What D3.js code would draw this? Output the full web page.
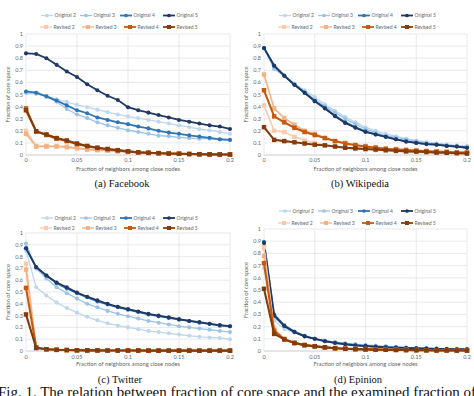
<!DOCTYPE html>
<html lang="en">
<head>
<meta charset="utf-8">
<script src="https://d3js.org/d3.v7.min.js"></script>
<style>
  body { margin: 0; background: #fff; }
  svg text { font-family: Lato, "Open Sans", sans-serif; }
  text.cap { font-family: "Liberation Serif", "DejaVu Serif", serif; fill: #111; }
</style>
</head>
<body>
<script>
// x values: fraction of neighbors among close nodes
var xs = [0, 0.01, 0.02, 0.03, 0.04, 0.05, 0.06, 0.07, 0.08, 0.09, 0.1,
          0.11, 0.12, 0.13, 0.14, 0.15, 0.16, 0.17, 0.18, 0.19, 0.2];

var seriesNames = ["Original 2", "Original 3", "Original 4", "Original 5",
                   "Revised 2", "Revised 3", "Revised 4", "Revised 5"];
var seriesColors = ["#bdd7ee", "#9dc3e6", "#2e75b6", "#1f3864",
                    "#f8cbad", "#f4b183", "#c55a11", "#843c0c"];
var yTicks = [0, 0.1, 0.2, 0.3, 0.4, 0.5, 0.6, 0.7, 0.8, 0.9, 1];
var xTicks = [0, 0.05, 0.1, 0.15, 0.2];
var xTickLabels = ["0", "0.05", "0.1", "0.15", "0.2"];
var panelTitles = ["(a) Facebook", "(b) Wikipedia", "(c) Twitter", "(d) Epinion"];

// Facebook, one row per series (same order as seriesNames)
var facebook = [
  [0.51, 0.505, 0.49, 0.46, 0.44, 0.415, 0.395, 0.375, 0.355, 0.335, 0.32, 0.305, 0.29, 0.275, 0.26, 0.245, 0.23, 0.215, 0.205, 0.19, 0.175],
  [0.52, 0.51, 0.48, 0.44, 0.38, 0.335, 0.305, 0.27, 0.245, 0.225, 0.205, 0.19, 0.175, 0.16, 0.155, 0.145, 0.14, 0.135, 0.135, 0.128, 0.125],
  [0.525, 0.515, 0.485, 0.45, 0.41, 0.37, 0.345, 0.31, 0.29, 0.27, 0.255, 0.235, 0.22, 0.2, 0.185, 0.175, 0.162, 0.152, 0.142, 0.13, 0.125],
  [0.84, 0.835, 0.80, 0.745, 0.69, 0.645, 0.585, 0.535, 0.49, 0.455, 0.395, 0.37, 0.35, 0.33, 0.31, 0.29, 0.275, 0.26, 0.245, 0.235, 0.215],
  [0.2, 0.075, 0.075, 0.075, 0.07, 0.06, 0.05, 0.045, 0.038, 0.032, 0.027, 0.022, 0.019, 0.016, 0.013, 0.011, 0.009, 0.008, 0.007, 0.006, 0.005],
  [0.175, 0.07, 0.07, 0.07, 0.065, 0.055, 0.045, 0.04, 0.035, 0.03, 0.025, 0.02, 0.018, 0.015, 0.012, 0.01, 0.008, 0.007, 0.006, 0.005, 0.004],
  [0.385, 0.195, 0.165, 0.135, 0.115, 0.09, 0.072, 0.058, 0.048, 0.038, 0.029, 0.022, 0.018, 0.015, 0.012, 0.01, 0.008, 0.006, 0.005, 0.004, 0.004],
  [0.37, 0.195, 0.17, 0.14, 0.12, 0.095, 0.075, 0.06, 0.05, 0.04, 0.03, 0.022, 0.018, 0.015, 0.012, 0.01, 0.008, 0.006, 0.005, 0.004, 0.004]
];

var wikipedia = [
  [0.88, 0.72, 0.66, 0.59, 0.535, 0.48, 0.42, 0.365, 0.315, 0.27, 0.23, 0.2, 0.175, 0.155, 0.135, 0.12, 0.105, 0.095, 0.085, 0.08, 0.075],
  [0.88, 0.71, 0.655, 0.585, 0.525, 0.46, 0.405, 0.35, 0.3, 0.255, 0.215, 0.185, 0.16, 0.145, 0.13, 0.115, 0.1, 0.095, 0.085, 0.075, 0.07],
  [0.885, 0.735, 0.655, 0.58, 0.515, 0.445, 0.39, 0.325, 0.27, 0.23, 0.195, 0.17, 0.15, 0.13, 0.115, 0.1, 0.09, 0.085, 0.075, 0.07, 0.06],
  [0.885, 0.74, 0.655, 0.58, 0.515, 0.445, 0.385, 0.32, 0.265, 0.225, 0.19, 0.17, 0.15, 0.13, 0.11, 0.1, 0.09, 0.085, 0.075, 0.07, 0.06],
  [0.41, 0.2, 0.19, 0.15, 0.12, 0.1, 0.08, 0.07, 0.06, 0.05, 0.045, 0.04, 0.035, 0.03, 0.03, 0.025, 0.022, 0.02, 0.018, 0.016, 0.015],
  [0.665, 0.385, 0.305, 0.25, 0.2, 0.175, 0.14, 0.115, 0.1, 0.085, 0.075, 0.065, 0.055, 0.05, 0.045, 0.04, 0.035, 0.03, 0.028, 0.025, 0.022],
  [0.535, 0.32, 0.27, 0.225, 0.19, 0.165, 0.14, 0.115, 0.095, 0.08, 0.07, 0.06, 0.05, 0.045, 0.04, 0.035, 0.03, 0.028, 0.025, 0.02, 0.02],
  [0.23, 0.125, 0.115, 0.105, 0.095, 0.085, 0.08, 0.07, 0.06, 0.055, 0.05, 0.045, 0.04, 0.035, 0.03, 0.028, 0.025, 0.02, 0.018, 0.015, 0.012]
];

var twitter = [
  [0.85, 0.54, 0.47, 0.41, 0.365, 0.325, 0.29, 0.26, 0.235, 0.215, 0.2, 0.185, 0.17, 0.16, 0.15, 0.14, 0.13, 0.12, 0.115, 0.11, 0.1],
  [0.91, 0.70, 0.615, 0.54, 0.49, 0.445, 0.4, 0.37, 0.34, 0.315, 0.295, 0.275, 0.255, 0.24, 0.225, 0.21, 0.2, 0.19, 0.18, 0.17, 0.16],
  [0.87, 0.71, 0.64, 0.575, 0.53, 0.49, 0.455, 0.42, 0.395, 0.37, 0.35, 0.33, 0.31, 0.295, 0.28, 0.265, 0.255, 0.24, 0.23, 0.215, 0.21],
  [0.87, 0.71, 0.64, 0.58, 0.54, 0.495, 0.46, 0.43, 0.4, 0.375, 0.355, 0.335, 0.315, 0.3, 0.285, 0.27, 0.255, 0.245, 0.23, 0.22, 0.21],
  [0.74, 0.03, 0.015, 0.01, 0.008, 0.006, 0.005, 0.005, 0.004, 0.004, 0.004, 0.004, 0.003, 0.003, 0.003, 0.003, 0.003, 0.003, 0.003, 0.003, 0.003],
  [0.69, 0.03, 0.015, 0.01, 0.008, 0.006, 0.005, 0.005, 0.004, 0.004, 0.004, 0.004, 0.003, 0.003, 0.003, 0.003, 0.003, 0.003, 0.003, 0.003, 0.003],
  [0.535, 0.03, 0.015, 0.01, 0.008, 0.006, 0.005, 0.005, 0.004, 0.004, 0.004, 0.004, 0.003, 0.003, 0.003, 0.003, 0.003, 0.003, 0.003, 0.003, 0.003],
  [0.31, 0.025, 0.015, 0.01, 0.008, 0.006, 0.005, 0.005, 0.004, 0.004, 0.004, 0.004, 0.003, 0.003, 0.003, 0.003, 0.003, 0.003, 0.003, 0.003, 0.003]
];

var epinion = [
  [0.68, 0.25, 0.18, 0.15, 0.12, 0.1, 0.085, 0.075, 0.065, 0.057, 0.05, 0.045, 0.04, 0.035, 0.03, 0.027, 0.024, 0.022, 0.02, 0.018, 0.016],
  [0.84, 0.28, 0.2, 0.155, 0.12, 0.1, 0.085, 0.072, 0.062, 0.055, 0.048, 0.042, 0.036, 0.032, 0.028, 0.025, 0.022, 0.02, 0.018, 0.016, 0.015],
  [0.895, 0.30, 0.21, 0.16, 0.125, 0.1, 0.08, 0.068, 0.058, 0.048, 0.042, 0.036, 0.032, 0.028, 0.025, 0.022, 0.02, 0.018, 0.016, 0.015, 0.014],
  [0.885, 0.29, 0.205, 0.155, 0.12, 0.1, 0.08, 0.065, 0.055, 0.045, 0.04, 0.035, 0.03, 0.028, 0.025, 0.022, 0.02, 0.018, 0.016, 0.015, 0.014],
  [0.85, 0.18, 0.1, 0.07, 0.05, 0.04, 0.03, 0.025, 0.02, 0.017, 0.015, 0.012, 0.01, 0.009, 0.008, 0.007, 0.006, 0.005, 0.005, 0.004, 0.004],
  [0.78, 0.175, 0.1, 0.07, 0.05, 0.04, 0.03, 0.025, 0.02, 0.017, 0.015, 0.012, 0.01, 0.009, 0.008, 0.007, 0.006, 0.005, 0.005, 0.004, 0.004],
  [0.72, 0.165, 0.095, 0.065, 0.048, 0.038, 0.03, 0.022, 0.018, 0.015, 0.013, 0.011, 0.01, 0.009, 0.008, 0.007, 0.006, 0.005, 0.005, 0.004, 0.004],
  [0.51, 0.14, 0.095, 0.065, 0.048, 0.038, 0.03, 0.022, 0.018, 0.015, 0.013, 0.011, 0.01, 0.009, 0.008, 0.007, 0.006, 0.005, 0.005, 0.004, 0.004]
];

var W = 474, H = 396;

var svg = d3.select("body").append("svg")
    .attr("width", W)
    .attr("height", H);

// where each small chart sits in the figure
var panels = [
  {data: facebook,  left: 26,  right: 230, top: 34,  bottom: 155, leg1: 15.5, leg2: 27,  tickY: 162, titleY: 171, capX: 122, capY: 187},
  {data: wikipedia, left: 264, right: 467, top: 34,  bottom: 155, leg1: 15.5, leg2: 27,  tickY: 162, titleY: 171, capX: 360, capY: 187},
  {data: twitter,   left: 26,  right: 230, top: 233, bottom: 351, leg1: 218,  leg2: 228, tickY: 359, titleY: 366, capX: 120, capY: 383},
  {data: epinion,   left: 264, right: 467, top: 229, bottom: 351, leg1: 211,  leg2: 223, tickY: 359, titleY: 366, capX: 358, capY: 383}
];

// legend offsets (relative to plot left) for the two legend rows
var legendRow1 = [15, 54, 94, 137];
var legendRow2 = [14, 56, 98, 137];

function isRevised(i) { return i >= 4; }
function lineWidth(i) { return (i % 4) >= 2 ? 1.8 : 1.3; }

panels.forEach(function(p, pi) {
    var x = d3.scaleLinear().domain([0, 0.2]).range([p.left, p.right]);
    var y = d3.scaleLinear().domain([0, 1]).range([p.bottom, p.top]);
    var g = svg.append("g");

    // grid
    g.selectAll("line.hgrid")
        .data(yTicks)
        .enter().append("line")
        .attr("x1", p.left).attr("x2", p.right)
        .attr("y1", function(d) { return y(d); })
        .attr("y2", function(d) { return y(d); })
        .attr("stroke", function(d) { return d == 0 ? "#bfbfbf" : "#e3e3e3"; })
        .attr("stroke-width", 0.8);
    g.selectAll("line.vgrid")
        .data(xTicks)
        .enter().append("line")
        .attr("y1", p.top).attr("y2", p.bottom)
        .attr("x1", function(d) { return x(d); })
        .attr("x2", function(d) { return x(d); })
        .attr("stroke", "#e3e3e3")
        .attr("stroke-width", 0.8);

    // tick labels
    g.selectAll("text.ytick")
        .data(yTicks)
        .enter().append("text")
        .attr("x", p.left - 3)
        .attr("y", function(d) { return y(d) + 2; })
        .attr("text-anchor", "end")
        .attr("font-size", 5.5)
        .attr("fill", "#666")
        .text(function(d) { return d3.format("")(d); });
    g.selectAll("text.xtick")
        .data(xTicks)
        .enter().append("text")
        .attr("x", function(d) { return x(d); })
        .attr("y", p.tickY)
        .attr("text-anchor", "middle")
        .attr("font-size", 5.5)
        .attr("fill", "#666")
        .text(function(d, i) { return xTickLabels[i]; });

    // axis titles
    g.append("text")
        .attr("x", (p.left + p.right) / 2)
        .attr("y", p.titleY)
        .attr("text-anchor", "middle")
        .attr("font-size", 5.8)
        .attr("fill", "#666")
        .text("Fraction of neighbors among close nodes");
    g.append("text")
        .attr("transform", "translate(" + (p.left - 16) + "," + ((p.top + p.bottom) / 2) + ") rotate(-90)")
        .attr("text-anchor", "middle")
        .attr("font-size", 5.8)
        .attr("fill", "#666")
        .text("Fraction of core space");

    // series
    var line = d3.line()
        .x(function(d, i) { return x(xs[i]); })
        .y(function(d) { return y(d); });
    var circle = d3.symbol().type(d3.symbolCircle).size(13);
    var square = d3.symbol().type(d3.symbolSquare).size(20);

    p.data.forEach(function(vals, si) {
        var sg = g.append("g");
        sg.append("path")
            .attr("d", line(vals))
            .attr("fill", "none")
            .attr("stroke", seriesColors[si])
            .attr("stroke-width", isRevised(si) ? lineWidth(si) + 0.3 : lineWidth(si));
        sg.selectAll("path.pt")
            .data(vals)
            .enter().append("path")
            .attr("d", isRevised(si) ? square : circle)
            .attr("transform", function(d, i) { return "translate(" + x(xs[i]) + "," + y(d) + ")"; })
            .attr("fill", seriesColors[si]);
    });

    // legend
    seriesNames.forEach(function(name, si) {
        var lx = p.left + (si < 4 ? legendRow1[si] : legendRow2[si - 4]);
        var ly = si < 4 ? p.leg1 : p.leg2;
        var lg = svg.append("g");
        lg.append("line")
            .attr("x1", lx).attr("x2", lx + 12)
            .attr("y1", ly).attr("y2", ly)
            .attr("stroke", seriesColors[si])
            .attr("stroke-width", lineWidth(si));
        lg.append("path")
            .attr("d", isRevised(si) ? d3.symbol().type(d3.symbolSquare).size(16)() : d3.symbol().type(d3.symbolCircle).size(11)())
            .attr("transform", "translate(" + (lx + 6) + "," + ly + ")")
            .attr("fill", seriesColors[si]);
        lg.append("text")
            .attr("x", lx + 13.5)
            .attr("y", ly + 1.8)
            .attr("font-size", 5)
            .attr("fill", "#666")
            .text(name);
    });

    // caption under the panel
    svg.append("text")
        .attr("class", "cap")
        .attr("x", p.capX)
        .attr("y", p.capY)
        .attr("text-anchor", "middle")
        .attr("font-size", 10.5)
        .text(panelTitles[pi]);
});

// figure caption, cut off at the bottom edge like the scan
svg.append("text")
    .attr("class", "cap")
    .attr("x", -2)
    .attr("y", 397)
    .attr("font-size", 15)
    .attr("textLength", 478)
    .attr("lengthAdjust", "spacing")
    .text("Fig. 1. The relation between fraction of core space and the examined fraction of");
</script>
</body>
</html>
